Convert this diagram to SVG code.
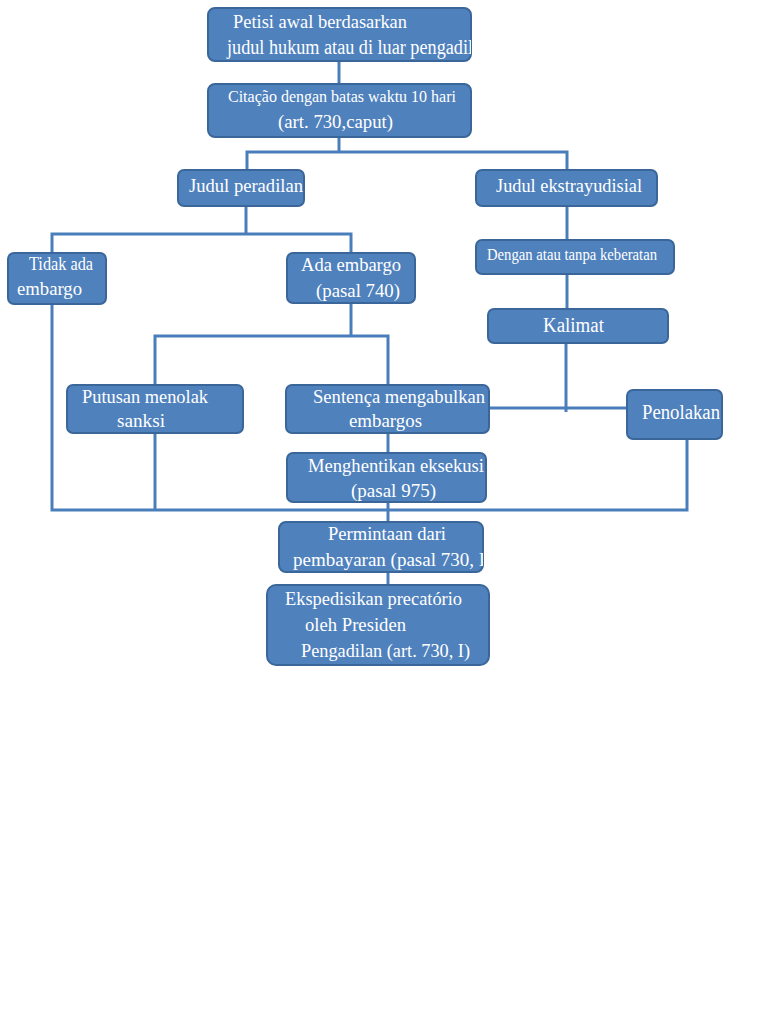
<svg xmlns="http://www.w3.org/2000/svg" width="768" height="1024" viewBox="0 0 768 1024">
<style>
.box{fill:#4f81bd;stroke:#3a669a;stroke-width:2}
.t{font-family:"Liberation Serif","Times New Roman",serif;fill:#ffffff;font-size:19px}
.s{font-size:17px}
.c{fill:none;stroke:#4a7ebb;stroke-width:3}
</style>
<defs>
<clipPath id="c1"><rect x="208" y="8" width="263" height="53" rx="7"/></clipPath>
<clipPath id="c9"><rect x="279" y="522" width="204" height="50" rx="7"/></clipPath>
</defs>
<rect width="768" height="1024" fill="#ffffff"/>
<g id="connectors" class="c">
<path d="M339 61V84"/>
<path d="M339 137V152"/>
<path d="M247 170V152H567V170"/>
<path d="M246 206V234"/>
<path d="M52 253V234H351V253"/>
<path d="M567 206V240"/>
<path d="M567 274V309"/>
<path d="M566 343V412"/>
<path d="M489 408H627"/>
<path d="M351 303V336"/>
<path d="M155 385V336H388V385"/>
<path d="M388 433V453"/>
<path d="M388 502V522"/>
<path d="M388 572V585"/>
<path d="M52 304V510H687V439"/>
<path d="M155 433V510"/>
</g>
<g id="n1">
<rect class="box" x="208" y="8" width="263" height="53" rx="7"/>
<g clip-path="url(#c1)">
<text class="t" x="233" y="28" textLength="174" lengthAdjust="spacingAndGlyphs">Petisi awal berdasarkan</text>
<text class="t" x="227" y="54" textLength="246" lengthAdjust="spacingAndGlyphs" style="font-size:20px">judul hukum atau di luar pengadil</text>
</g>
</g>
<g id="n2">
<rect class="box" x="208" y="84" width="263" height="53" rx="7"/>
<text class="t s" x="228" y="102" textLength="228" lengthAdjust="spacingAndGlyphs">Citação dengan batas waktu 10 hari</text>
<text class="t" x="278" y="128" textLength="115" lengthAdjust="spacingAndGlyphs">(art. 730,caput)</text>
</g>
<g id="n3">
<rect class="box" x="178" y="170" width="126" height="36" rx="6"/>
<text class="t" x="189" y="192" textLength="114" lengthAdjust="spacingAndGlyphs">Judul peradilan</text>
</g>
<g id="n4">
<rect class="box" x="476" y="170" width="181" height="36" rx="6"/>
<text class="t" x="496" y="192" textLength="146" lengthAdjust="spacingAndGlyphs">Judul ekstrayudisial</text>
</g>
<g id="n5">
<rect class="box" x="8" y="253" width="98" height="51" rx="6"/>
<text class="t" x="29" y="270" textLength="64" lengthAdjust="spacingAndGlyphs" style="font-size:18px">Tidak ada</text>
<text class="t" x="17" y="295" textLength="65" lengthAdjust="spacingAndGlyphs">embargo</text>
</g>
<g id="n6">
<rect class="box" x="287" y="253" width="128" height="50" rx="6"/>
<text class="t" x="301" y="271" textLength="100" lengthAdjust="spacingAndGlyphs">Ada embargo</text>
<text class="t" x="316" y="297" textLength="84" lengthAdjust="spacingAndGlyphs">(pasal 740)</text>
</g>
<g id="n7">
<rect class="box" x="476" y="240" width="198" height="34" rx="6"/>
<text class="t s" x="487" y="260" textLength="170" lengthAdjust="spacingAndGlyphs">Dengan atau tanpa keberatan</text>
</g>
<g id="n8">
<rect class="box" x="488" y="309" width="180" height="34" rx="6"/>
<text class="t" x="543" y="332" textLength="61" lengthAdjust="spacingAndGlyphs" style="font-size:20px">Kalimat</text>
</g>
<g id="n9">
<rect class="box" x="67" y="385" width="176" height="48" rx="6"/>
<text class="t" x="82" y="403" textLength="126" lengthAdjust="spacingAndGlyphs">Putusan menolak</text>
<text class="t" x="117" y="427" textLength="48" lengthAdjust="spacingAndGlyphs">sanksi</text>
</g>
<g id="n10">
<rect class="box" x="286" y="385" width="203" height="48" rx="6"/>
<text class="t" x="313" y="403" textLength="172" lengthAdjust="spacingAndGlyphs">Sentença mengabulkan</text>
<text class="t" x="349" y="427" textLength="73" lengthAdjust="spacingAndGlyphs">embargos</text>
</g>
<g id="n11">
<rect class="box" x="627" y="390" width="95" height="49" rx="6"/>
<text class="t" x="642" y="419" textLength="78" lengthAdjust="spacingAndGlyphs" style="font-size:20px">Penolakan</text>
</g>
<g id="n12">
<rect class="box" x="287" y="453" width="199" height="49" rx="6"/>
<text class="t" x="308" y="472" textLength="176" lengthAdjust="spacingAndGlyphs">Menghentikan eksekusi</text>
<text class="t" x="351" y="497" textLength="85" lengthAdjust="spacingAndGlyphs">(pasal 975)</text>
</g>
<g id="n13">
<rect class="box" x="279" y="522" width="204" height="50" rx="7"/>
<g clip-path="url(#c9)">
<text class="t" x="328" y="540" textLength="118" lengthAdjust="spacingAndGlyphs">Permintaan dari</text>
<text class="t" x="293" y="566" textLength="192" lengthAdjust="spacingAndGlyphs">pembayaran (pasal 730, I</text>
</g>
</g>
<g id="n14">
<rect class="box" x="267" y="585" width="222" height="80" rx="9"/>
<text class="t" x="285" y="605" textLength="177" lengthAdjust="spacingAndGlyphs">Ekspedisikan precatório</text>
<text class="t" x="305" y="631" textLength="101" lengthAdjust="spacingAndGlyphs">oleh Presiden</text>
<text class="t" x="301" y="657" textLength="169" lengthAdjust="spacingAndGlyphs">Pengadilan (art. 730, I)</text>
</g>
</svg>
